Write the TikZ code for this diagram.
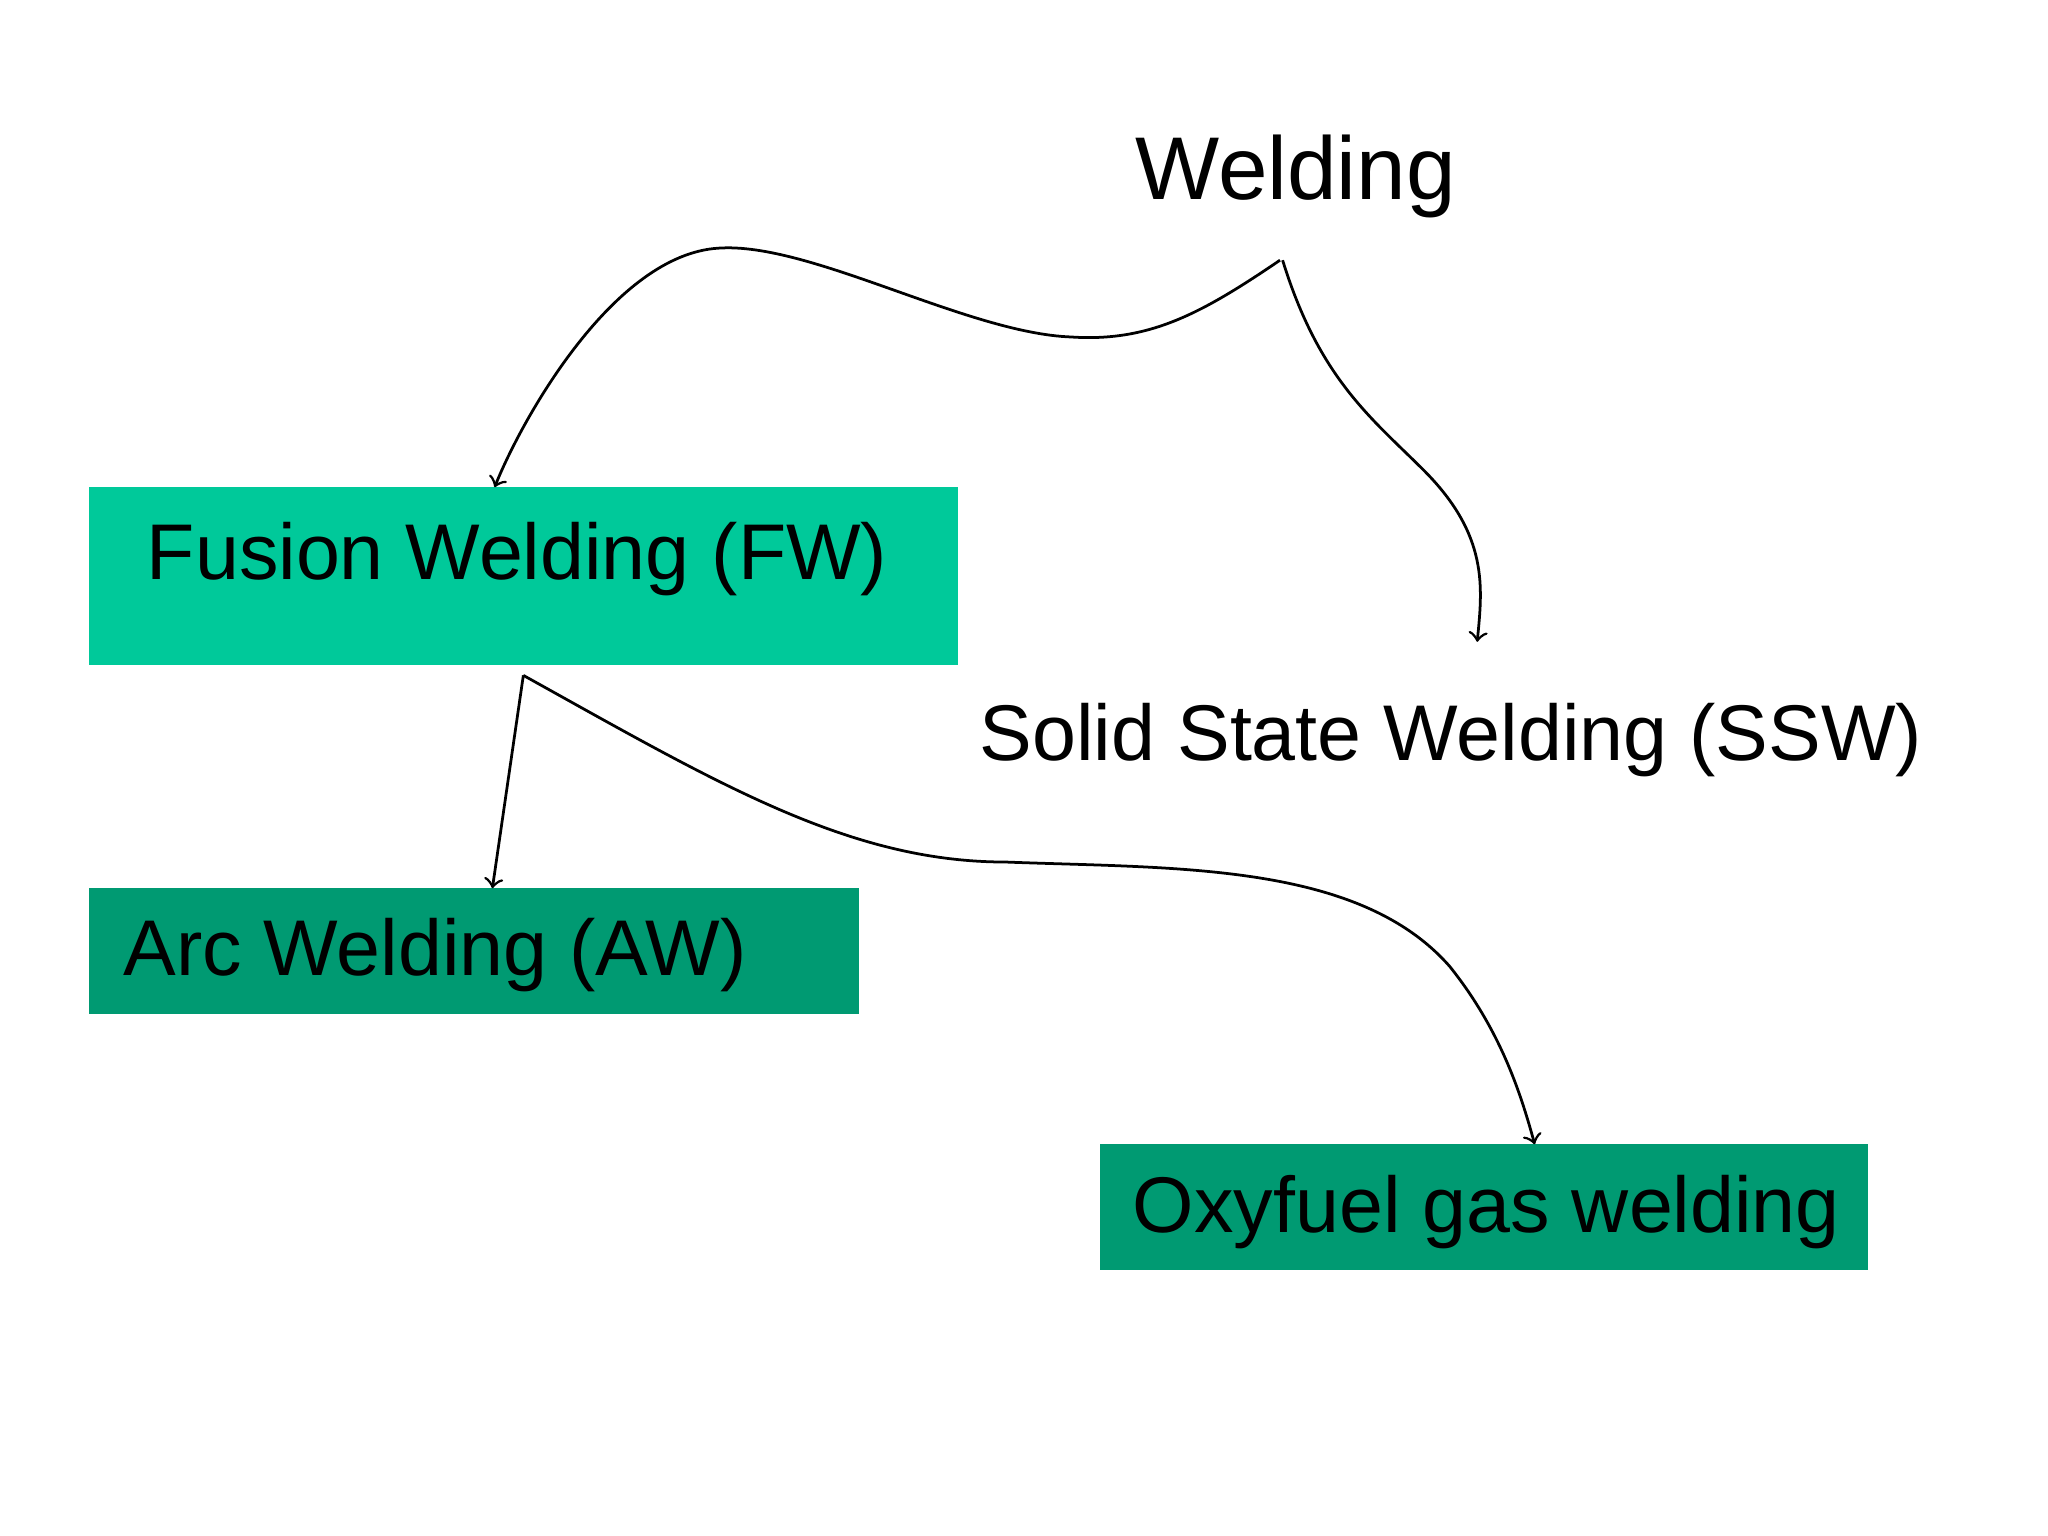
\documentclass[tikz,border=0pt]{standalone}
\usepackage{fontspec}
\setmainfont{Liberation Sans}
\usetikzlibrary{calc}
\definecolor{fwgreen}{HTML}{00C99A}
\definecolor{subgreen}{HTML}{009A72}
\tikzset{
    box/.style={anchor=north west, inner sep=0pt, outer sep=0pt},
    lbl/.style={font=\fontsize{17.2}{21}\selectfont},
    conn/.style={->, line width=0.6pt},
}
\begin{document}
\begin{tikzpicture}[x=0.01cm, y=-0.01cm]
    \useasboundingbox (0,0) rectangle (1568,1176);

    \node[lbl, font=\fontsize{19.4}{24}\selectfont](wd) at (992,135){Welding};
    \node[box, fill=fwgreen, minimum width=6.65cm, minimum height=1.36cm](fw) at (68,373){};
    \node[lbl, anchor=west] at (100,428){Fusion Welding (FW)};
    \node[lbl](ssw) at (1111,567){Solid State Welding (SSW)};
    \node[box, fill=subgreen, minimum width=5.89cm, minimum height=0.96cm](aw) at (68,680){};
    \node[lbl, anchor=west] at (82,731){Arc Welding (AW)};
    \node[box, fill=subgreen, minimum width=5.88cm, minimum height=0.96cm](ox) at (842,876){};
    \node[lbl, anchor=west] at (855,928){Oxyfuel gas welding};

    \coordinate (ws) at ($(wd.south)+(-12,20)$);
    \coordinate (fb) at ($(fw.south)+(0,8)$);

    \draw[conn](ws) .. controls (920,240) and (880,262) .. (820,258)
        .. controls (740,255) and (620,185) .. (550,190)
        .. controls (470,195) and (400,320) .. ($(fw.north)+(-22,0)$);
    \draw[conn]($(ws)+(2,0)$) .. controls (1010,290) and (1050,320) .. (1090,360)
        .. controls (1140,410) and (1135,450) .. ($(ssw.north)+(20,-35)$);

    \draw[conn](fb)--($(aw.north west)+(309,0)$);
    \draw[conn](fb) .. controls (550,600) and (650,660) .. (770,660)
        .. controls (900,665) and (1040,660) .. (1110,740)
        .. controls (1150,790) and (1165,840) .. ($(ox.north west)+(333,0)$);
\end{tikzpicture}
\end{document}
